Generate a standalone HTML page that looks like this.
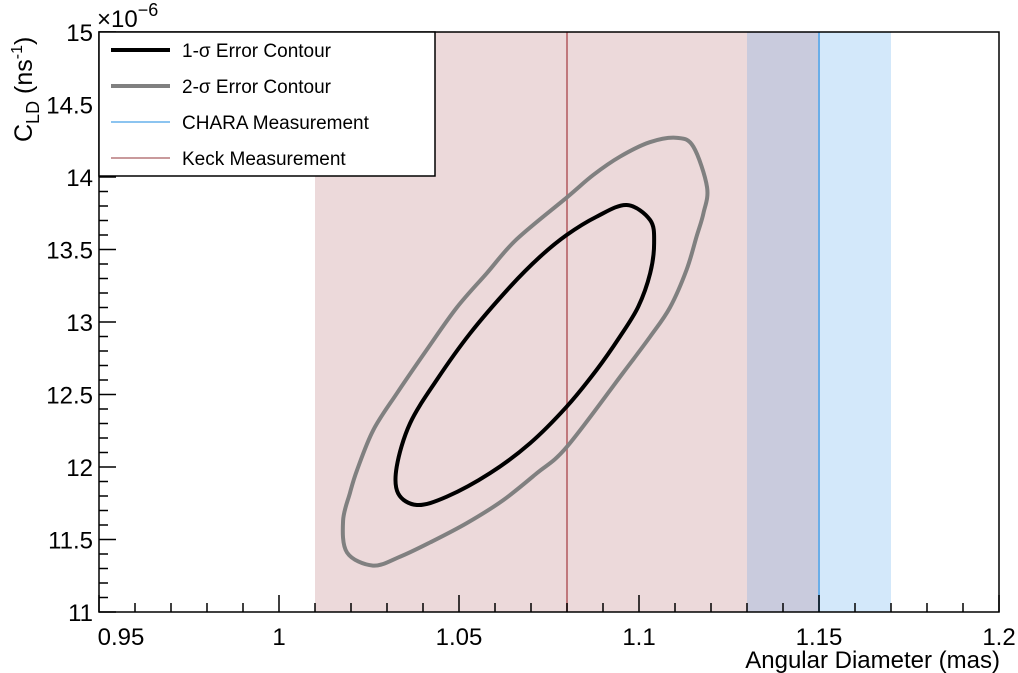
<!DOCTYPE html>
<html><head><meta charset="utf-8"><style>
body{margin:0;background:#fff;}
svg{display:block;font-family:"Liberation Sans",Arial,sans-serif;}
</style></head><body>
<svg id="c" width="1018" height="673"></svg>
<script>
const xTicks=[0.95,1.0,1.05,1.1,1.15,1.2];
const xTickLabels=["0.95","1","1.05","1.1","1.15","1.2"];
const yTicks=[11,11.5,12,12.5,13,13.5,14,14.5,15];
const yTickLabels=["11","11.5","12","12.5","13","13.5","14","14.5","15"];
const keckBand=[1.01,1.15];
const keckValue=1.08;
const charaBand=[1.13,1.17];
const charaValue=1.15;
const sigma1X=[1.0966,1.1031,1.1042,1.1031,1.0998,1.0947,1.0882,1.0799,1.0697,1.0586,1.0466,1.0383,1.0331,1.0327,1.0364,1.0438,1.0531,1.0642,1.0725,1.0799,1.0882];
const sigma1Y=[13.807,13.703,13.543,13.336,13.106,12.899,12.669,12.416,12.163,11.957,11.795,11.738,11.818,12.002,12.301,12.6,12.922,13.243,13.45,13.6,13.726];
const sigma2X=[1.1106,1.1151,1.1189,1.1179,1.116,1.1132,1.1086,1.1031,1.0956,1.080,1.0716,1.0622,1.0521,1.042,1.0336,1.0261,1.0189,1.0178,1.0197,1.0217,1.0262,1.0328,1.041,1.0494,1.0577,1.066,1.080,1.0873,1.0947,1.103];
const sigma2Y=[14.27,14.209,13.93,13.75,13.59,13.359,13.10,12.899,12.65,12.14,11.957,11.77,11.612,11.48,11.381,11.32,11.41,11.63,11.82,11.98,12.255,12.51,12.807,13.10,13.336,13.57,13.86,14.014,14.14,14.24];

const L=99,R=999,T=32,B=612;
const X=v=>L+(v-0.95)/0.25*(R-L);
const Y=v=>B-(v-11)/4*(B-T);
const svg=document.getElementById('c');
const NS='http://www.w3.org/2000/svg';
function mk(tag,attrs,parent){const e=document.createElementNS(NS,tag);for(const k in attrs)e.setAttribute(k,attrs[k]);(parent||svg).appendChild(e);return e;}

let e;
e=mk('rect',{x:X(keckBand[0]),y:T,width:X(keckBand[1])-X(keckBand[0]),height:B-T,fill:'#ecd9da'});

e=mk('rect',{x:X(charaBand[0]),y:T,width:X(charaBand[1])-X(charaBand[0]),height:B-T,fill:'#d3e8fa'});

e=mk('rect',{x:X(charaBand[0]),y:T,width:X(keckBand[1])-X(charaBand[0]),height:B-T,fill:'#c9cbdd'});

e=mk('line',{x1:X(keckValue),x2:X(keckValue),y1:T,y2:B,stroke:'#c0787c','stroke-width':2});

e=mk('line',{x1:X(charaValue),x2:X(charaValue),y1:T,y2:B,stroke:'#6aaee8','stroke-width':2});


function closedPath(xs,ys){
  const p=xs.map((x,i)=>[X(x),Y(ys[i])]);const n=p.length;let d=`M${p[0][0]},${p[0][1]}`;
  for(let i=0;i<n;i++){const p0=p[(i-1+n)%n],p1=p[i],p2=p[(i+1)%n],p3=p[(i+2)%n];
    d+=`C${p1[0]+(p2[0]-p0[0])/6},${p1[1]+(p2[1]-p0[1])/6} ${p2[0]-(p3[0]-p1[0])/6},${p2[1]-(p3[1]-p1[1])/6} ${p2[0]},${p2[1]}`;}
  return d+'Z';}
e=mk('path',{d:closedPath(sigma2X,sigma2Y),fill:'none',stroke:'#808080','stroke-width':4,'stroke-linejoin':'round'});

e=mk('path',{d:closedPath(sigma1X,sigma1Y),fill:'none',stroke:'#000','stroke-width':4,'stroke-linejoin':'round'});


e=mk('rect',{x:L,y:T,width:R-L,height:B-T,fill:'none',stroke:'#000','stroke-width':1.5});

for(let k=0;k<=25;k++){const v=0.95+k*0.01;const major=k%5===0;
  e=mk('line',{x1:X(v),x2:X(v),y1:B,y2:B-(major?17:9),stroke:'#000','stroke-width':1.5});
  }
xTicks.forEach((v,i)=>{e=mk('text',{x:X(v)+(i===0?22:0),y:645,'font-size':24,'text-anchor':'middle'});e.textContent=xTickLabels[i];
  });
for(let k=0;k<=40;k++){const v=11+k*0.1;const major=k%5===0;
  e=mk('line',{x1:L,x2:L+(major?17:9),y1:Y(v),y2:Y(v),stroke:'#000','stroke-width':1.5});
  }
yTicks.forEach((v,i)=>{e=mk('text',{x:93,y:Y(v)+9,'font-size':24,'text-anchor':'end'});e.textContent=yTickLabels[i];
  });
e=mk('text',{x:97,y:27,'font-size':24});e.innerHTML='×10<tspan dy="-11" font-size="18">−6</tspan>';

e=mk('text',{x:1000,y:668,'font-size':24,'text-anchor':'end'});e.textContent='Angular Diameter (mas)';

e=mk('text',{transform:'translate(32,142) rotate(-90)','font-size':25});
e.innerHTML='C<tspan dy="7" font-size="18">LD</tspan><tspan dy="-7"> (ns</tspan><tspan dy="-10" font-size="16">-1</tspan><tspan dy="10">)</tspan>';


const lg=mk('g',{});
mk('rect',{x:L,y:T,width:336,height:144,fill:'#fff',stroke:'#000','stroke-width':1.5},lg);
const entries=[['1-σ Error Contour','#000',4],['2-σ Error Contour','#808080',4],['CHARA Measurement','#8cc4f0',2],['Keck Measurement','#c99a9c',2]];
entries.forEach((en,i)=>{const g=mk('g',{},lg);
  const y=50+i*36;mk('line',{x1:111,x2:170,y1:y,y2:y,stroke:en[1],'stroke-width':en[2]},g);
  const t=mk('text',{x:182,y:y+7,'font-size':19},g);t.textContent=en[0];});
</script>
</body></html>
